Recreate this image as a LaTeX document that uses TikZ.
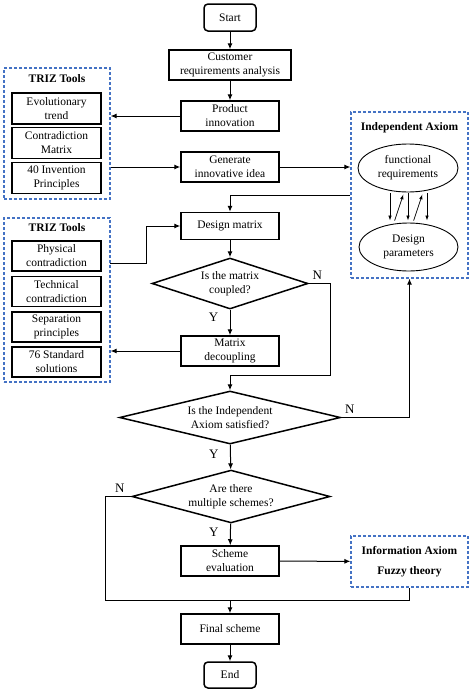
\documentclass[tikz,border=0pt]{standalone}
\usepackage{fontspec}
\setmainfont{Liberation Serif}
\usetikzlibrary{shapes.geometric,arrows.meta,positioning}
\definecolor{triz}{HTML}{4472C4}

\begin{document}
\begin{tikzpicture}[x=1pt,y=-1pt,
font=\fontsize{11.5}{14}\selectfont,
proc/.style={
	rectangle,minimum width=98pt,minimum height=30pt,
	draw=black,line width=1.5pt,
	align=center,inner sep=1pt},
term/.style={proc,rounded corners=4pt,minimum width=52pt,minimum height=27pt},
cond/.style={diamond,draw=black,line width=1.5pt,aspect=3,inner sep=0pt,align=center},
tool/.style={proc,minimum width=89pt},
toolbox/.style={rectangle,draw=triz,dash pattern=on 3pt off 2pt,line width=1.2pt},
axel/.style={ellipse,draw=black,line width=0.9pt,minimum width=100pt,minimum height=48pt,align=center,inner sep=0pt},
head/.style={font=\fontsize{11.5}{14}\selectfont\bfseries},
yn/.style={font=\fontsize{13}{15}\selectfont},
flow/.style={-{Latex[length=6pt,width=5pt]},line width=1pt},
fine/.style={-{Latex[length=5pt,width=3.5pt]},line width=0.7pt}
]
\useasboundingbox (0,0) rectangle (474,694);

% main column
\node[term] (start) at (230,17.5) {Start};
\node[proc,minimum width=122pt] (cra) at (230,65) {Customer\\requirements analysis};
\node[proc] (prod) at (230,116) {Product\\innovation};
\node[proc] (gen) at (230,167) {Generate\\innovative idea};
\node[proc,minimum height=27pt] (dm) at (230,226) {Design matrix};
\node[cond,minimum width=156pt,minimum height=51pt] (coup) at (230,283.5) {Is the matrix\\coupled?};
\node[proc] (dec) at (230,351) {Matrix\\decoupling};
\node[cond,minimum width=221pt,minimum height=53pt] (ind) at (230,417.5) {Is the Independent\\Axiom satisfied?};
\node[cond,minimum width=198pt,minimum height=51pt] (mult) at (231,496.5) {Are there\\multiple schemes?};
\node[proc] (eval) at (230,561) {Scheme\\evaluation};
\node[proc] (final) at (230,629) {Final scheme};
\node[term,minimum height=26pt] (end) at (230,675) {End};

% TRIZ tools, upper
\node[toolbox,minimum width=106pt,minimum height=131pt] (triz1) at (57,133.5) {};
\node[head,below=4pt of triz1.north] (t1head) {TRIZ Tools};
\node[tool,minimum height=31pt] (evo) at (56.5,108.5) {Evolutionary\\trend};
\node[tool,minimum height=31pt] (cm) at (56.5,143) {Contradiction\\Matrix};
\node[tool,minimum height=31pt] (inv) at (56.5,178) {40 Invention\\Principles};

% TRIZ tools, lower
\node[toolbox,minimum width=106pt,minimum height=164pt] (triz2) at (57,300) {};
\node[head,below=3pt of triz2.north] (t2head) {TRIZ Tools};
\node[tool] (phys) at (56.5,256) {Physical\\contradiction};
\node[tool] (tech) at (56.5,291.5) {Technical\\contradiction};
\node[tool] (sep) at (56.5,327) {Separation\\principles};
\node[tool] (std) at (56.5,362) {76 Standard\\solutions};
\coordinate (t2out) at (110,263);

% axioms
\node[toolbox,minimum width=117pt,minimum height=166pt] (ia) at (409.5,195) {};
\node[head,below=8pt of ia.north] (iahead) {Independent Axiom};
\node[axel] (fr) at (408,168) {functional\\requirements};
\node[axel,minimum width=99pt] (dp) at (408.5,247) {Design\\parameters};
\node[toolbox,head,align=center,minimum width=117pt,minimum height=51pt] (info) at (409.5,561.5) {Information Axiom\\[6pt]Fuzzy theory};
\coordinate (join) at (230,600);

\foreach \x in {390,408,427}
	\draw[fine,shorten <=1pt,shorten >=2pt] (fr.south -| \x,0) -- (dp.north -| \x,0);
\foreach \x in {394,413}
	\draw[fine,shorten <=2pt,shorten >=2pt] (dp.north -| \x,0) -- (fr.south -| \x+10,0);

% connectors
\draw[flow] (start) -- (cra);
\draw[flow] (cra) -- (prod);
\draw[flow] (prod.west) -- (prod.west -| triz1.east);
\draw[flow] (gen.west -| triz1.east) -- (gen.west);
\draw[flow] (gen.east) -- (gen.east -| ia.west);
\draw[flow] (ia.west) -| (dm.north);
\draw[flow] (t2out) -- ++(36,0) |- (dm.west);
\draw[flow] (dm) -- (coup);
\draw[flow] (coup) -- node[yn,left=8pt,pos=0.3]{Y} (dec);
\draw[flow] (dec.west) -- (dec.west -| triz2.east);
\coordinate (m1) at (230,375);
\draw[flow] (coup.east) node[yn,above right]{N} -- ++(22,0) |- (m1) -- (ind.north);
\draw[flow] (ind) -- node[yn,left=8pt,pos=0.4]{Y} (mult);
\draw[flow] (ind.east) node[yn,above right]{N} -| (ia.south);
\draw[flow] (mult) -- node[yn,left=8pt,pos=0.42]{Y} (eval);
\draw[flow] (eval) -- (info);
\draw[line width=1pt] (mult.west) node[yn,above left,xshift=-3pt]{N} -- ++(-26,0) |- (join -| info.south) -- (info.south);
\draw[flow] (join) -- (final);
\draw[flow] (final) -- (end);

\end{tikzpicture}
\end{document}
